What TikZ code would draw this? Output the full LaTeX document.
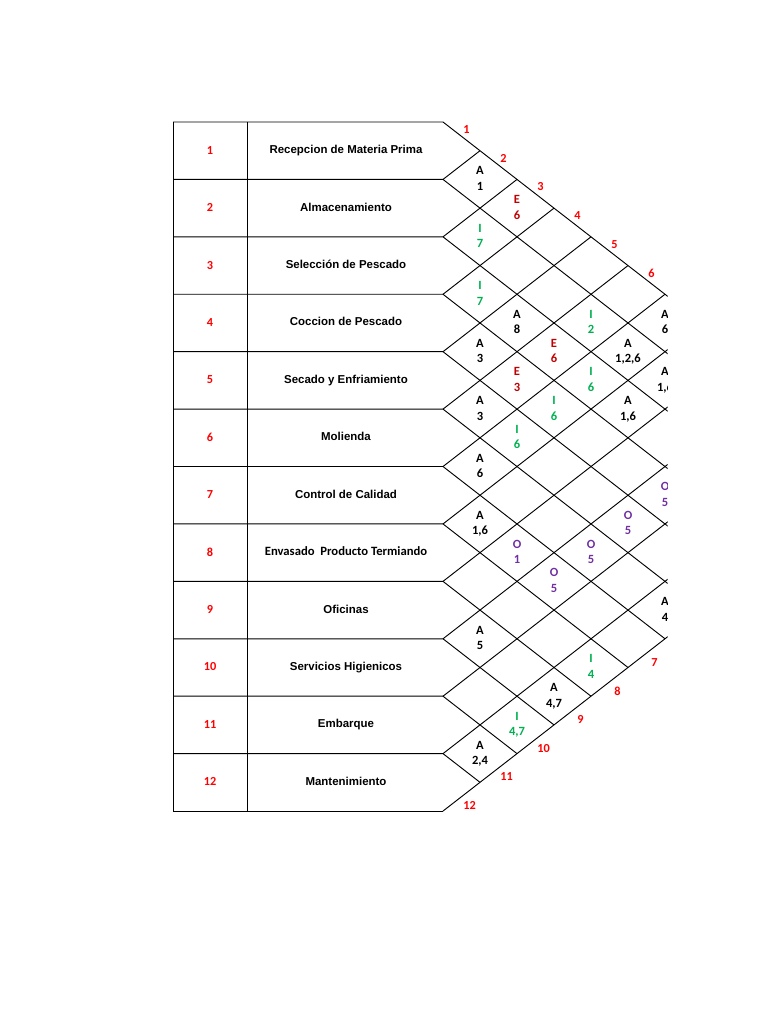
\documentclass[tikz,border=0pt]{standalone}
\usepackage{fontspec}
\setmainfont{Liberation Sans}
\newfontfamily\calib{Carlito}
\definecolor{lblred}{HTML}{FF0000}
\definecolor{ered}{HTML}{C00000}
\definecolor{igreen}{HTML}{00B050}
\definecolor{opurple}{HTML}{7030A0}
\tikzset{
  chartline/.style={line width=0.7pt, draw=black},
  titletext/.style={font=\fontsize{8.6}{10}\selectfont\bfseries, inner sep=0pt, anchor=base},
  titlecalib/.style={font=\calib\fontsize{9.5}{11}\selectfont\bfseries, inner sep=0pt, anchor=base},
  numlbl/.style={font=\calib\fontsize{9.2}{10}\selectfont\bfseries, text=lblred, inner sep=0pt},
  cellt/.style={font=\calib\fontsize{9.4}{10}\selectfont\bfseries, inner sep=0pt, anchor=base},
}
\newcommand\rcell[5]{%
  \pgfmathsetmacro\rcX{443+37*(#2-#1)}%
  \pgfmathsetmacro\rcY{122+57.42*(#1+#2-1)/2}%
  \node[cellt, text=#5] (l#1-#2) at (\rcX,\rcY-4.5) {#3};
  \node[cellt, text=#5] (n#1-#2) at (\rcX,\rcY+11) {#4};
}
\newcommand\rrow[3]{%
  \pgfmathsetmacro\rrY{122+57.42*(#1-0.5)}%
  \node[numlbl, anchor=base] (k#1) at (210,\rrY+3.5) {#1};
  \node[#3] (t#1) at (346,\rrY+3) {#2};
}
\begin{document}
\begin{tikzpicture}[x=0.75pt, y=-0.75pt]
\useasboundingbox (0,0) rectangle (768,1024);
\begin{scope}
\clip (0,0) rectangle (667.5,1024);
% table verticals
\draw[chartline] (173,122) -- (173,811);
\draw[chartline] (247,122) -- (247,811);
% row boundaries and diagonal grid
\foreach \k in {0,...,12}{
  \pgfmathsetmacro\yk{122+57.42*\k}
  \draw[chartline] (173,\yk) -- (443,\yk) -- ++({37*(12-\k)},{28.71*(12-\k)});
  \draw[chartline] (443,\yk) -- ++({37*\k},{-28.71*\k});
}
% row labels
\rrow{1}{Recepcion de Materia Prima}{titletext}
\rrow{2}{Almacenamiento}{titletext}
\rrow{3}{Selección de Pescado}{titletext}
\rrow{4}{Coccion de Pescado}{titletext}
\rrow{5}{Secado y Enfriamiento}{titletext}
\rrow{6}{Molienda}{titletext}
\rrow{7}{Control de Calidad}{titletext}
\rrow{8}{Envasado\ \ Producto Termiando}{titlecalib}
\rrow{9}{Oficinas}{titletext}
\rrow{10}{Servicios Higienicos}{titletext}
\rrow{11}{Embarque}{titletext}
\rrow{12}{Mantenimiento}{titletext}
% outer labels
\foreach \k in {1,...,6}{
  \node[numlbl] (top\k) at ({466.5+37*(\k-1)},{129.35+28.71*(\k-1)}) {\k};
}
\foreach \k in {7,...,12}{
  \node[numlbl] (bot\k) at ({469.5+37*(12-\k)},{805.65-28.71*(12-\k)}) {\k};
}
% relationship cells
\rcell{1}{2}{A}{1}{black}
\rcell{1}{3}{E}{6}{ered}
\rcell{2}{3}{I}{7}{igreen}
\rcell{3}{4}{I}{7}{igreen}
\rcell{3}{5}{A}{8}{black}
\rcell{2}{6}{I}{2}{igreen}
\rcell{1}{7}{A}{6}{black}
\rcell{4}{5}{A}{3}{black}
\rcell{3}{6}{E}{6}{ered}
\rcell{2}{7}{A}{1,2,6}{black}
\rcell{4}{6}{E}{3}{ered}
\rcell{3}{7}{I}{6}{igreen}
\rcell{2}{8}{A}{1,6}{black}
\rcell{5}{6}{A}{3}{black}
\rcell{4}{7}{I}{6}{igreen}
\rcell{3}{8}{A}{1,6}{black}
\rcell{5}{7}{I}{6}{igreen}
\rcell{6}{7}{A}{6}{black}
\rcell{4}{10}{O}{5}{opurple}
\rcell{7}{8}{A}{1,6}{black}
\rcell{5}{10}{O}{5}{opurple}
\rcell{7}{9}{O}{1}{opurple}
\rcell{6}{10}{O}{5}{opurple}
\rcell{7}{10}{O}{5}{opurple}
\rcell{6}{12}{A}{4}{black}
\rcell{9}{10}{A}{5}{black}
\rcell{8}{12}{I}{4}{igreen}
\rcell{9}{12}{A}{4,7}{black}
\rcell{10}{12}{I}{4,7}{igreen}
\rcell{11}{12}{A}{2,4}{black}
\end{scope}
\end{tikzpicture}
\end{document}
